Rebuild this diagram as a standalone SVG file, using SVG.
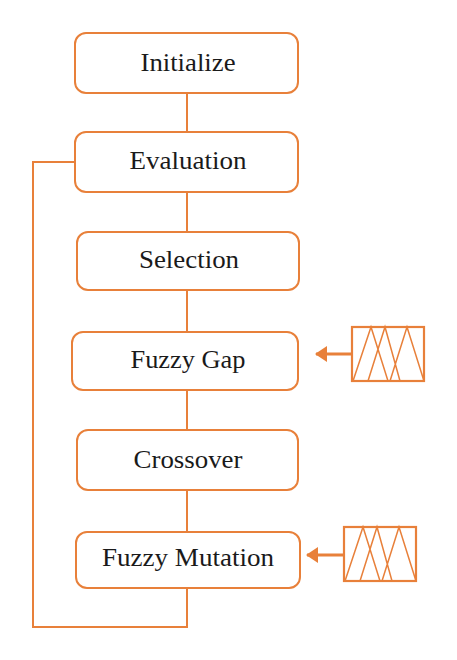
<svg xmlns="http://www.w3.org/2000/svg" width="457" height="660" viewBox="0 0 457 660">
<defs>
<style>
.box{fill:#fff;stroke:#E8803A;stroke-width:2}
.ln{fill:none;stroke:#E8803A;stroke-width:2}
.arr{fill:none;stroke:#E8803A;stroke-width:3}
.thin{fill:none;stroke:#E8803A;stroke-width:1.5}
.t{font-family:"Liberation Serif","Times New Roman",serif;font-size:25px;fill:#1a1a1a;text-anchor:middle}
</style>
<marker id="ah" viewBox="0 0 12 16" refX="11" refY="8" markerWidth="12" markerHeight="16" orient="auto" markerUnits="userSpaceOnUse">
<path d="M0,0 L12,8 L0,16 z" fill="#E8803A"/>
</marker>
<g id="fuzzyIcon">
<rect x="0" y="0" width="72" height="54" fill="#fff" stroke="#E8803A" stroke-width="2.2"/>
<path class="thin" d="M1,54 L19,0 L36,54 M16,54 L33,0 L48,54 M38,54 L55,0 L72,54"/>
</g>
</defs>
<g id="connectors">
<line class="ln" x1="187" y1="93" x2="187" y2="132"/>
<line class="ln" x1="187" y1="192" x2="187" y2="232"/>
<line class="ln" x1="187" y1="290" x2="187" y2="332"/>
<line class="ln" x1="187" y1="390" x2="187" y2="430"/>
<line class="ln" x1="187" y1="490" x2="187" y2="532"/>
<polyline class="ln" points="187,588 187,627 33,627 33,162 75,162"/>
<line class="arr" x1="352" y1="354" x2="316" y2="354" marker-end="url(#ah)"/>
<line class="arr" x1="343" y1="555" x2="307" y2="555" marker-end="url(#ah)"/>
</g>
<g id="initialize">
<rect class="box" x="75" y="33" width="223" height="60" rx="11"/>
<text class="t" x="188" y="71" textLength="95" lengthAdjust="spacingAndGlyphs">Initialize</text>
</g>
<g id="evaluation">
<rect class="box" x="75" y="132" width="223" height="60" rx="11"/>
<text class="t" x="188" y="169" textLength="117" lengthAdjust="spacingAndGlyphs">Evaluation</text>
</g>
<g id="selection">
<rect class="box" x="77" y="232" width="222" height="58" rx="11"/>
<text class="t" x="189" y="268" textLength="100" lengthAdjust="spacingAndGlyphs">Selection</text>
</g>
<g id="fuzzygap">
<rect class="box" x="72" y="332" width="226" height="58" rx="11"/>
<text class="t" x="188" y="368" textLength="115" lengthAdjust="spacingAndGlyphs">Fuzzy Gap</text>
</g>
<g id="crossover">
<rect class="box" x="77" y="430" width="221" height="60" rx="11"/>
<text class="t" x="188" y="468" textLength="109" lengthAdjust="spacingAndGlyphs">Crossover</text>
</g>
<g id="fuzzymutation">
<rect class="box" x="76" y="532" width="224" height="56" rx="11"/>
<text class="t" x="188" y="566" textLength="172" lengthAdjust="spacingAndGlyphs">Fuzzy Mutation</text>
</g>
<g id="fuzzyset1">
<use href="#fuzzyIcon" x="352" y="327"/>
</g>
<g id="fuzzyset2">
<use href="#fuzzyIcon" x="344" y="527"/>
</g>
</svg>
